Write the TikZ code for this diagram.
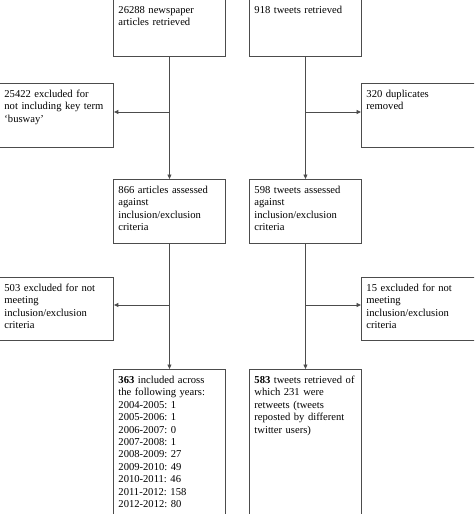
\documentclass[tikz,border=0pt]{standalone}
\usepackage{fontspec}
\setmainfont{Liberation Serif}
\usetikzlibrary{arrows.meta}

\tikzset{
	flow/.style={draw=black!70, line width=0.9pt, anchor=north west, align=left,
		inner xsep=5pt, inner ysep=6pt, text height=8pt,
		font=\fontsize{10.6}{12.4}\selectfont\frenchspacing},
	link/.style={draw=black!70, line width=0.9pt, -{Triangle[length=4.5pt,width=4pt]}}
}

\begin{document}
\begin{tikzpicture}[x=1pt,y=-1pt]
	\clip (0,0) rectangle (474,514);
	% sources
	\node[flow, text width=102pt, text depth=37pt] (news) at (113,-1) {26288 newspaper\\articles retrieved};
	\node[flow, text width=102pt, text depth=37pt] (tweets) at (249,-1) {918 tweets retrieved};
	% first exclusions
	\node[flow, text width=104pt, text depth=44pt] (nokey) at (-1,83) {25422 excluded for\\not including key term\\`busway'};
	\node[flow, text width=104pt, text depth=44pt] (dupl) at (361,83) {320 duplicates\\removed};
	% assessed
	\node[flow, text width=102pt, text depth=44pt] (artass) at (113,179) {866 articles assessed\\against\\inclusion/exclusion\\criteria};
	\node[flow, text width=102pt, text depth=44pt] (twass) at (249,179) {598 tweets assessed\\against\\inclusion/exclusion\\criteria};
	% second exclusions
	\node[flow, text width=104pt, text depth=43pt] (artex) at (-1,277) {503 excluded for not\\meeting\\inclusion/exclusion\\criteria};
	\node[flow, text width=104pt, text depth=43pt] (twex) at (361,277) {15 excluded for not\\meeting\\inclusion/exclusion\\criteria};
	% included
	\node[flow, text width=102pt, text depth=150pt] (artinc) at (113,369) {\textbf{363} included across\\the following years:\\2004-2005: 1\\2005-2006: 1\\2006-2007: 0\\2007-2008: 1\\2008-2009: 27\\2009-2010: 49\\2010-2011: 46\\2011-2012: 158\\2012-2012: 80};
	\node[flow, text width=102pt, text depth=150pt] (twinc) at (249,369) {\textbf{583} tweets retrieved of\\which 231 were\\retweets (tweets\\reposted by different\\twitter users)};

	\coordinate (nb1) at (news.south |- 0,112);
	\coordinate (tb1) at (tweets.south |- 0,112);
	\coordinate (nb2) at (news.south |- 0,305);
	\coordinate (tb2) at (tweets.south |- 0,305);

	\draw[link] (news) -- (artass);
	\draw[link] (tweets) -- (twass);
	\draw[link] (artass) -- (artinc);
	\draw[link] (twass) -- (twinc);
	\draw[link] (nb1) -- (nb1 -| nokey.east);
	\draw[link] (tb1) -- (tb1 -| dupl.west);
	\draw[link] (nb2) -- (nb2 -| artex.east);
	\draw[link] (tb2) -- (tb2 -| twex.west);
\end{tikzpicture}
\end{document}
